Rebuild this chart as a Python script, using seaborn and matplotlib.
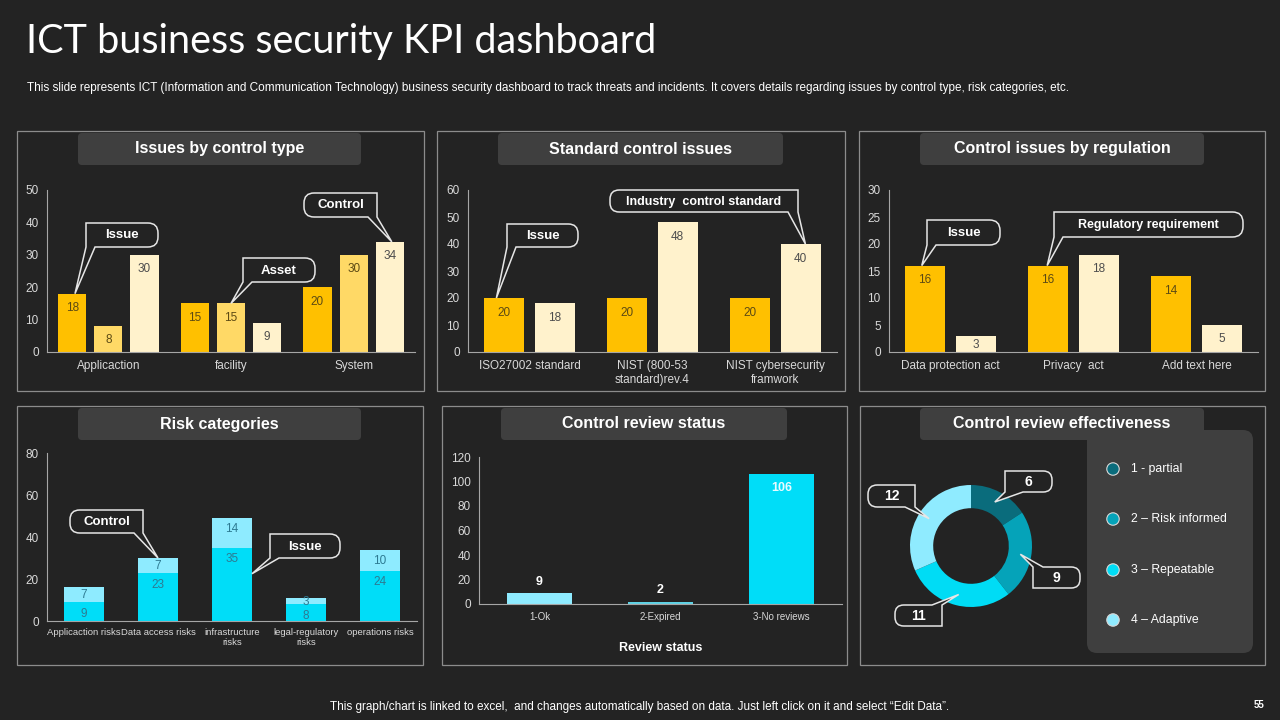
import numpy as np
import pandas as pd
import seaborn as sns
import matplotlib.pyplot as plt
from matplotlib.patches import Rectangle, FancyBboxPatch, PathPatch
from matplotlib.path import Path

# ---- data ----
ctrl_types = ['Applicaction', 'facility', 'System']
ctrl_issue = [18, 15, 20]
ctrl_asset = [8, 15, 30]
ctrl_control = [30, 9, 34]

std_cats = ['ISO27002 standard', 'NIST (800-53\nstandard)rev.4', 'NIST cybersecurity\nframwork']
std_issue = [20, 20, 20]
std_industry = [18, 48, 40]

reg_cats = ['Data protection act', 'Privacy  act', 'Add text here']
reg_issue = [16, 16, 14]
reg_req = [3, 18, 5]

risk_cats = ['Applicaction risks', 'Data access risks', 'infrastructure\nrisks',
             'legal-regulatory\nrisks', 'operations risks']
risk_issue = [9, 23, 35, 8, 24]
risk_control = [7, 7, 14, 3, 10]

review_cats = ['1-Ok', '2-Expired', '3-No reviews']
review_vals = [9, 2, 106]

eff_labels = ['1 - partial', '2 – Risk informed', '3 – Repeatable', '4 – Adaptive']
eff_vals = [6, 9, 11, 12]

# ---- style ----
W, H = 1280, 720
BG = '#232323'
BOX = '#3f3f3f'
BORDER = '#8c8c8c'
TXT = '#d9d9d9'
GOLD = ['#FFC000', '#FFD966', '#FFF2CC']
CYAN_HI = '#00DDF8'
CYAN_LO = '#8EEBFF'
EFF_COLORS = ['#0A6C7C', '#05A3B9', '#00DCF5', '#8FEBFF']
REVIEW_COLORS = [CYAN_LO, '#5FD3E6', CYAN_HI]
NOEDGE = dict(edgecolor='none', linewidth=0)

sns.set_theme(style='dark')
plt.rcParams['font.family'] = ['Liberation Sans', 'DejaVu Sans']
plt.rcParams['axes.facecolor'] = 'none'

fig = plt.figure(figsize=(12.8, 7.2), dpi=100, facecolor=BG)

bg = fig.add_axes([0, 0, 1, 1], zorder=0)
bg.set_xlim(0, W); bg.set_ylim(H, 0); bg.axis('off')
over = fig.add_axes([0, 0, 1, 1], zorder=10)
over.set_xlim(0, W); over.set_ylim(H, 0); over.axis('off')
over.patch.set_alpha(0)


def make_ax(x0, y0, x1, y1):
    ax = fig.add_axes([x0 / W, 1 - y1 / H, (x1 - x0) / W, (y1 - y0) / H], zorder=5)
    ax.set_facecolor('none')
    for s in ['top', 'right']:
        ax.spines[s].set_visible(False)
    for s in ['left', 'bottom']:
        ax.spines[s].set_color('#a6a6a6')
        ax.spines[s].set_linewidth(0.8)
    ax.tick_params(length=0, colors=TXT, labelsize=8.5, pad=6)
    ax.grid(False)
    return ax


def panel(x0, y0, x1, y1, title, tx0, tx1):
    bg.add_patch(Rectangle((x0, y0), x1 - x0, y1 - y0, fc='none', ec=BORDER, lw=0.9))
    bg.add_patch(FancyBboxPatch((tx0, y0 + 2), tx1 - tx0, 32, boxstyle='round,pad=0,rounding_size=4',
                                fc=BOX, ec='none'))
    bg.text((tx0 + tx1) / 2, y0 + 18, title, color='white', fontsize=11.5, fontweight='bold',
            ha='center', va='center')


def to_over(ax, xy):
    return over.transData.inverted().transform(ax.transData.transform(xy))


M, L, C3, CL = Path.MOVETO, Path.LINETO, Path.CURVE3, Path.CLOSEPOLY


def callout(tip, box, text, rnd='right', tail='bottom', tw=9, fs=9.5):
    x0, y0, x1, y1 = box
    tx, ty = tip
    if rnd == 'left':
        tx = x0 + x1 - tx
    r = 0.42 * (y1 - y0)
    if tail == 'bottom':
        v = [(x0, y0), (x1 - r, y0), (x1, y0), (x1, y0 + r), (x1, y1 - r), (x1, y1), (x1 - r, y1),
             (x0 + tw, y1), (tx, ty), (x0, y1), (x0, y0)]
        c = [M, L, C3, C3, L, C3, C3, L, L, L, CL]
    else:
        v = [(x0, y1), (x0, y0), (tx, ty), (x0 + tw, y0), (x1 - r, y0), (x1, y0), (x1, y0 + r),
             (x1, y1 - r), (x1, y1), (x1 - r, y1), (x0, y1)]
        c = [M, L, L, L, L, C3, C3, L, C3, C3, CL]
    if rnd == 'left':
        v = [(x0 + x1 - a, b) for a, b in v]
    over.add_patch(PathPatch(Path(v, c), fc=BG, ec='#e6e6e6', lw=1.1, zorder=3))
    over.text((x0 + x1) / 2, (y0 + y1) / 2 + 0.5, text, color='white', fontsize=fs,
              fontweight='bold', ha='center', va='center', zorder=4)


def label_bars(ax, container, color, values=None, fs=8.5, depth=10.5, frac=0.5):
    # value text centred a little below each segment's top (or inside short segments)
    for i, p in enumerate(container):
        top = p.get_y() + p.get_height()
        val = p.get_height() if values is None else values[i]
        hpx = abs(ax.transData.transform((0, top))[1] - ax.transData.transform((0, top - val))[1])
        o = -min(depth, hpx * 0.72 * frac + 0.5)
        ax.annotate(f'{val:g}', (p.get_x() + p.get_width() / 2, top), xytext=(0, o),
                    textcoords='offset points', ha='center', va='center', color=color, fontsize=fs)


def grouped(ax, cats, series, colors, width, gap):
    df = pd.concat([pd.DataFrame({'cat': cats, 'val': vals, 'series': name})
                    for name, vals in series.items()])
    sns.barplot(data=df, x='cat', y='val', hue='series', palette=colors, width=width, gap=gap,
                saturation=1, legend=False, ax=ax, **NOEDGE)
    ax.set_xlabel(''); ax.set_ylabel('')
    ax.set_xlim(-0.5, len(cats) - 0.5)


# ---- header / footer ----
bg.text(26, 42, 'ICT business security KPI dashboard', color='white', fontsize=28.5,
        family=['Lato', 'DejaVu Sans'], ha='left', va='center')
bg.text(27, 88, 'This slide represents ICT (Information and Communication Technology) business security '
        'dashboard to track threats and incidents. It covers details regarding issues by control type, '
        'risk categories, etc.', color='white', fontsize=8.5, ha='left', va='center')
bg.text(640, 707, 'This graph/chart is linked to excel,  and changes automatically based on data. '
        'Just left click on it and select \u201cEdit Data\u201d.', color='white', fontsize=8.5,
        ha='center', va='center')
bg.text(1264, 705, '55', color='white', fontsize=7, fontweight='bold', ha='right', va='center')

# ---- panels ----
panel(17, 131, 424, 391, 'Issues by control type', 78, 361)
panel(437, 131, 845, 391, 'Standard control issues', 498, 783)
panel(859, 131, 1265, 391, 'Control issues by regulation', 920, 1204)
panel(17, 406, 423, 665, 'Risk categories', 78, 361)
panel(442, 406, 847, 665, 'Control review status', 501, 787)
panel(860, 406, 1265, 665, 'Control review effectiveness', 920, 1204)
bg.add_patch(FancyBboxPatch((1087, 430), 166, 223, boxstyle='round,pad=0,rounding_size=10',
                            fc=BOX, ec='none'))

# 1. Issues by control type
ax1 = make_ax(47, 190, 415, 352)
grouped(ax1, ctrl_types, {'Issue': ctrl_issue, 'Asset': ctrl_asset, 'Control': ctrl_control},
        GOLD, 0.885, 0.22)
ax1.set_ylim(0, 50); ax1.set_yticks(range(0, 51, 10))
for cont, col in zip(ax1.containers, ['#5c4a14', '#5c4a14', '#4d4d4d']):
    label_bars(ax1, cont, col)
b = ax1.containers[0][0]
callout(to_over(ax1, (b.get_x() + 0.6 * b.get_width(), b.get_height())), (86, 223, 158, 247), 'Issue')
b = ax1.containers[1][1]
callout(to_over(ax1, (b.get_x() + 0.5 * b.get_width(), b.get_height())), (243, 258, 315, 282), 'Asset')
b = ax1.containers[2][2]
callout(to_over(ax1, (b.get_x() + 0.57 * b.get_width(), b.get_height())), (304, 193, 377, 217),
        'Control', rnd='left')

# 2. Standard control issues
ax2 = make_ax(468, 190, 837, 352)
grouped(ax2, std_cats, {'Issue': std_issue, 'Industry': std_industry}, [GOLD[0], GOLD[2]], 0.816, 0.2)
ax2.set_ylim(0, 60); ax2.set_yticks(range(0, 61, 10))
for cont, col in zip(ax2.containers, ['#5c4a14', '#4d4d4d']):
    label_bars(ax2, cont, col)
b = ax2.containers[0][0]
callout(to_over(ax2, (b.get_x() + 0.3 * b.get_width(), b.get_height())), (507, 224, 578, 247), 'Issue')
b = ax2.containers[1][2]
callout(to_over(ax2, (b.get_x() + 0.62 * b.get_width(), b.get_height())), (610, 190, 798, 212),
        'Industry  control standard', rnd='left', tw=10, fs=9)

# 3. Control issues by regulation
ax3 = make_ax(889, 190, 1258, 352)
grouped(ax3, reg_cats, {'Issue': reg_issue, 'Requirement': reg_req}, [GOLD[0], GOLD[2]], 0.83, 0.21)
ax3.set_ylim(0, 30); ax3.set_yticks(range(0, 31, 5))
for cont, col in zip(ax3.containers, ['#5c4a14', '#4d4d4d']):
    label_bars(ax3, cont, col)
b = ax3.containers[0][0]
callout(to_over(ax3, (b.get_x() + 0.42 * b.get_width(), b.get_height())), (927, 220, 1000, 245), 'Issue')
b = ax3.containers[0][1]
callout(to_over(ax3, (b.get_x() + 0.48 * b.get_width(), b.get_height())), (1054, 212, 1243, 237),
        'Regulatory requirement', fs=9)

# 4. Risk categories (stacked)
ax4 = make_ax(47, 453, 417, 621)
risk_total = [a + c for a, c in zip(risk_issue, risk_control)]
sns.barplot(x=risk_cats, y=risk_total, color=CYAN_LO, saturation=1, width=0.54, ax=ax4, **NOEDGE)
sns.barplot(x=risk_cats, y=risk_issue, color=CYAN_HI, saturation=1, width=0.54, ax=ax4, **NOEDGE)
ax4.set_xlim(-0.5, len(risk_cats) - 0.5)
ax4.set_ylim(0, 80); ax4.set_yticks(range(0, 81, 20))
ax4.tick_params(axis='x', labelsize=6.8, pad=5)
label_bars(ax4, ax4.containers[0], '#2d7a92', values=risk_control, fs=8.5, depth=8)
label_bars(ax4, ax4.containers[1], '#2d7a92', fs=8.5, depth=8.5, frac=0.72)
b = ax4.containers[0][1]
callout(to_over(ax4, (b.get_x() + 0.5 * b.get_width(), b.get_height())), (70, 510, 143, 533),
        'Control', rnd='left')
b = ax4.containers[1][2]
callout(to_over(ax4, (b.get_x() + b.get_width(), 22.5)), (270, 534, 340, 558), 'Issue')

# 5. Control review status
ax5 = make_ax(479, 457, 842, 604)
sns.barplot(x=review_cats, y=review_vals, hue=review_cats, palette=REVIEW_COLORS, saturation=1,
            width=0.545, legend=False, ax=ax5, **NOEDGE)
ax5.set_xlim(-0.5, 2.5)
ax5.set_ylim(0, 120); ax5.set_yticks(range(0, 121, 20))
ax5.tick_params(axis='x', labelsize=7, pad=6)
for p in [c[0] for c in ax5.containers]:
    h = p.get_height()
    big = h > 60
    ax5.annotate(f'{h:g}', (p.get_x() + p.get_width() / 2, h), xytext=(0, -10 if big else 8),
                 textcoords='offset points', ha='center', va='center',
                 color='#e8fbff' if big else 'white', fontsize=9, fontweight='bold')
ax5.set_xlabel('Review status', color='white', fontsize=9, fontweight='bold', labelpad=14)

# 6. Control review effectiveness (donut)
ax6 = make_ax(910, 485, 1032, 607)
wedges, _ = ax6.pie(eff_vals, colors=EFF_COLORS, startangle=90, counterclock=False, radius=1,
                    wedgeprops=dict(width=0.38, edgecolor='none'))
ax6.set_xlim(-1, 1); ax6.set_ylim(-1, 1)
tips = []
for w in wedges:
    t = np.deg2rad((w.theta1 + w.theta2) / 2)
    tips.append(to_over(ax6, (0.82 * np.cos(t), 0.82 * np.sin(t))))
callout(tips[0], (1005, 471, 1052, 492), str(eff_vals[0]), tw=18, fs=10)
callout(tips[1], (1033, 567, 1080, 588), str(eff_vals[1]), tail='top', tw=10, fs=10)
callout(tips[2], (895, 605, 942, 626), str(eff_vals[2]), rnd='left', tail='top', tw=10, fs=10)
callout(tips[3], (868, 485, 915, 507), str(eff_vals[3]), rnd='left', tw=10, fs=10)

ly = [469, 519, 570, 620]
over.scatter([1113] * 4, ly, s=80, c=EFF_COLORS, edgecolors='#d9d9d9', linewidths=0.8, zorder=4)
for y, lab in zip(ly, eff_labels):
    over.text(1131, y, lab, color='white', fontsize=8.8, ha='left', va='center')

fig.savefig('out.png', dpi=100, facecolor=BG)
